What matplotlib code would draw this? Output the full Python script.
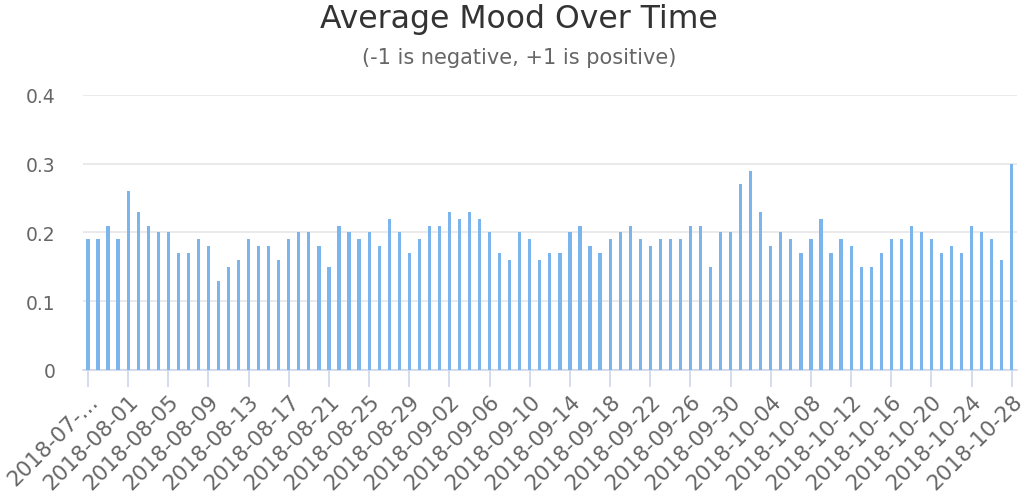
import matplotlib
matplotlib.use('Agg')
import matplotlib.pyplot as plt
import pandas as pd

# categories: one bar per day
dates = pd.date_range('2018-07-28', '2018-10-28', freq='D').strftime('%Y-%m-%d').tolist()

# average mood per day
mood = [0.19, 0.19, 0.21, 0.19, 0.26, 0.23, 0.21, 0.20, 0.20, 0.17,
        0.17, 0.19, 0.18, 0.13, 0.15, 0.16, 0.19, 0.18, 0.18, 0.16,
        0.19, 0.20, 0.20, 0.18, 0.15, 0.21, 0.20, 0.19, 0.20, 0.18,
        0.22, 0.20, 0.17, 0.19, 0.21, 0.21, 0.23, 0.22, 0.23, 0.22,
        0.20, 0.17, 0.16, 0.20, 0.19, 0.16, 0.17, 0.17, 0.20, 0.21,
        0.18, 0.17, 0.19, 0.20, 0.21, 0.19, 0.18, 0.19, 0.19, 0.19,
        0.21, 0.21, 0.15, 0.20, 0.20, 0.27, 0.29, 0.23, 0.18, 0.20,
        0.19, 0.17, 0.19, 0.22, 0.17, 0.19, 0.18, 0.15, 0.15, 0.17,
        0.19, 0.19, 0.21, 0.20, 0.19, 0.17, 0.18, 0.17, 0.21, 0.20,
        0.19, 0.16, 0.30]

y_ticks = [0, 0.1, 0.2, 0.3, 0.4]
y_tick_labels = ['0', '0.1', '0.2', '0.3', '0.4']

title = 'Average Mood Over Time'
subtitle = '(-1 is negative, +1 is positive)'

fig = plt.figure(figsize=(10.24, 5.02), dpi=100)
ax = fig.add_axes([0.081, 0.261, 0.912, 0.548])

x = list(range(len(dates)))
ax.bar(x, mood, width=0.32, color='#7cb5ec', zorder=3)

ax.set_xlim(-0.5, len(dates) - 0.5)
ax.set_ylim(0, 0.4)

# y axis: grid lines only
ax.set_yticks(y_ticks)
ax.set_yticklabels(y_tick_labels)
ax.yaxis.grid(True, color='#e6e6e6', linewidth=1.2, zorder=0)
ax.tick_params(axis='y', length=0, pad=20, labelsize=13.5, labelcolor='#666666')

# x axis: every 4th day, first label is cut off like the original
tick_pos = x[::4]
tick_labels = [dates[i] for i in tick_pos]
tick_labels[0] = '2018-07-…'
ax.set_xticks(tick_pos)
ax.set_xticklabels(tick_labels, rotation=45, ha='right', rotation_mode='anchor')
ax.tick_params(axis='x', length=12, width=1.2, color='#ccd6eb', pad=3,
               labelsize=15.5, labelcolor='#666666')

for side in ['top', 'right', 'left']:
    ax.spines[side].set_visible(False)
ax.spines['bottom'].set_color('#ccd6eb')
ax.spines['bottom'].set_linewidth(1.2)

fig.text(0.507, 0.945, title, ha='center', va='baseline', fontsize=22.7, color='#333333')
fig.text(0.507, 0.873, subtitle, ha='center', va='baseline', fontsize=15, color='#666666')

fig.savefig('out.png', dpi=100)
